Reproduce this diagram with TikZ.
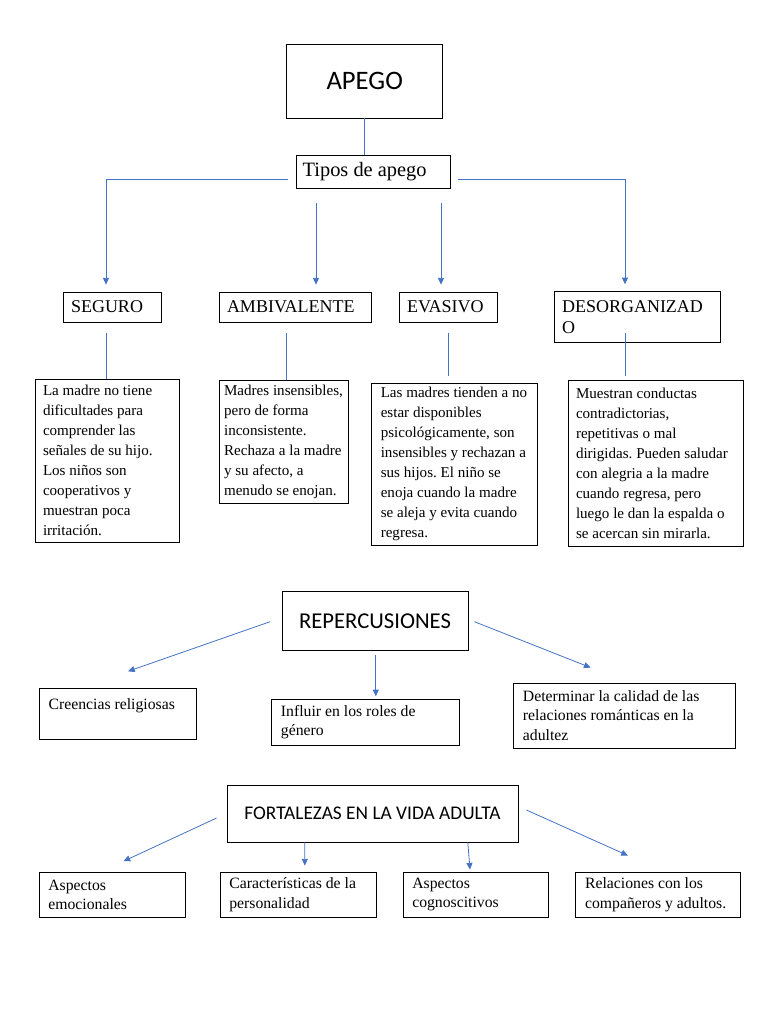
\documentclass[tikz,border=0pt]{standalone}
\usepackage{fontspec}
\setmainfont{Liberation Serif}
\newfontfamily\headfont{Carlito}
\usetikzlibrary{arrows.meta}
\definecolor{linkblue}{HTML}{4472C4}
\frenchspacing

\begin{document}
\begin{tikzpicture}[x=0.75pt,y=-0.75pt,
    box/.style={draw=black,line width=0.6pt,inner ysep=0pt},
    head/.style={box,align=center},
    lbl/.style={box,align=flush left,inner xsep=6pt,font=\fontsize{13.5}{15.5}\selectfont},
    txt/.style={box,align=flush left,inner xsep=6pt,font=\fontsize{11.3}{15}\selectfont},
    low/.style={box,align=flush left,inner xsep=7pt,font=\fontsize{11.8}{14.5}\selectfont},
    link/.style={draw=linkblue,line width=0.6pt},
    arr/.style={link,-{Triangle[length=5pt,width=4.5pt]}}]

    \useasboundingbox (0,0) rectangle (768,1024);

    % Main concept
    \node[head,minimum width=117pt,minimum height=55.5pt,font=\headfont\fontsize{20}{24}\selectfont] (apego) at (364.7,81) {APEGO};
    \node[box,align=flush left,inner xsep=5pt,text width=105.5pt,minimum height=24.75pt,font=\fontsize{15.3}{18}\selectfont] (tipos) at (373,171.5) {Tipos de apego};

    % Attachment types
    \node[lbl,text width=61.8pt,minimum height=22.5pt] (seguro) at (112.2,307) {SEGURO};
    \node[lbl,text width=102pt,minimum height=22.5pt] (amb) at (295,307) {AMBIVALENTE};
    \node[lbl,text width=61.5pt,minimum height=22.5pt] (eva) at (448,307) {EVASIVO};
    \node[lbl,text width=112.5pt,minimum height=38.25pt] (desorg) at (637,317.2) {DESORGANIZAD\\O};

    % Descriptions
    \node[txt,text width=96pt,minimum height=122.25pt] (segtext) at (107,460.5) {La madre no tiene\\dificultades para\\comprender las\\señales de su hijo.\\Los niños son\\cooperativos y\\muestran poca\\irritación.};
    \node[txt,inner xsep=2pt,minimum width=96.75pt,minimum height=92.25pt] (ambtext) at (283.5,441.5) {Madres insensibles,\\pero de forma\\inconsistente.\\Rechaza a la madre\\y su afecto, a\\menudo se enojan.};
    \node[txt,inner xsep=2pt,minimum width=124.5pt,minimum height=121.5pt] (evatext) at (454,464) {Las madres tienden a no\\estar disponibles\\psicológicamente, son\\insensibles y rechazan a\\sus hijos. El niño se\\enoja cuando la madre\\se aleja y evita cuando\\regresa.};
    \node[txt,text width=119.25pt,minimum height=124.5pt] (destext) at (655.5,463) {Muestran conductas\\contradictorias,\\repetitivas o mal\\dirigidas. Pueden saludar\\con alegria a la madre\\cuando regresa, pero\\luego le dan la espalda o\\se acercan sin mirarla.};

    % Consequences
    \node[head,minimum width=139.5pt,minimum height=44.25pt,font=\headfont\fontsize{17}{20}\selectfont] (rep) at (375,621.2) {REPERCUSIONES};
    \node[low,text width=104pt,minimum height=38.25pt] (creencias) at (118,713.5) {Creencias religiosas\\\mbox{}};
    \node[low,text width=126.5pt,minimum height=35pt] (influir) at (365.3,722.3) {Influir en los roles de\\género};
    \node[low,text width=152.5pt,minimum height=48.75pt] (determinar) at (624.6,715.5) {Determinar la calidad de las\\relaciones románticas en la\\adultez};

    % Strengths
    \node[head,minimum width=218.25pt,minimum height=42.75pt,font=\headfont\fontsize{14.5}{17}\selectfont] (fort) at (372.5,813.5) {FORTALEZAS EN LA VIDA ADULTA};
    \node[low,text width=95.5pt,minimum height=34.3pt] (emo) at (112,894.8) {Aspectos\\emocionales};
    \node[low,text width=103.5pt,minimum height=34.3pt] (car) at (298.3,894.8) {Características de la\\personalidad};
    \node[low,text width=95.3pt,minimum height=34.3pt] (cog) at (475.8,894.8) {Aspectos\\cognoscitivos};
    \node[low,text width=109.2pt,minimum height=34.3pt] (rel) at (657.9,894.8) {Relaciones con los\\compañeros y adultos.};

    % Tree below the types
    \draw[link] (apego.south) -- (apego.south |- tipos.north);
    \draw[arr] ([shift={(-8,7.5)}]tipos.west) -| ([shift={(-6.2,-7)}]seguro.north);
    \draw[arr] ([shift={(-57,14.5)}]tipos.south) -- ([shift={(21,-7)}]amb.north);
    \draw[arr] ([shift={(68,14.5)}]tipos.south) -- ([shift={(-7,-7)}]eva.north);
    \draw[arr] ([shift={(8,7.5)}]tipos.east) -| ([shift={(-12,-7)}]desorg.north);

    % Lines down to descriptions
    \draw[link] ([shift={(-6.2,11)}]seguro.south) -- ([shift={(-1,0)}]segtext.north);
    \draw[link] ([shift={(-8.5,11)}]amb.south) -- ([shift={(3,0)}]ambtext.north);
    \draw[link] ([shift={(0.5,11)}]eva.south) -- ([shift={(-5.5,-7)}]evatext.north);
    \draw[link] ([shift={(-12,-9.7)}]desorg.south) -- ([shift={(-30.5,-4)}]destext.north);

    % Arrows from repercusiones
    \draw[arr] ([shift={(-11.5,0.5)}]rep.west) -- ([shift={(10,-16.3)}]creencias.north);
    \draw[arr] ([shift={(0.8,4.3)}]rep.south) -- ([shift={(10.5,-2.3)}]influir.north);
    \draw[arr] ([shift={(6,0.5)}]rep.east) -- ([shift={(-34,-15)}]determinar.north);

    % Arrows from fortalezas
    \draw[arr] ([shift={(-10,4.5)}]fort.west) -- ([shift={(11.5,-10.3)}]emo.north);
    \draw[arr] ([shift={(-67.7,0)}]fort.south) -- ([shift={(6.5,-6)}]car.north);
    \draw[arr] ([shift={(95.3,0)}]fort.south) -- ([shift={(-5.8,-2)}]cog.north);
    \draw[arr] ([shift={(8,-3.5)}]fort.east) -- ([shift={(-30,-16)}]rel.north);

\end{tikzpicture}
\end{document}
